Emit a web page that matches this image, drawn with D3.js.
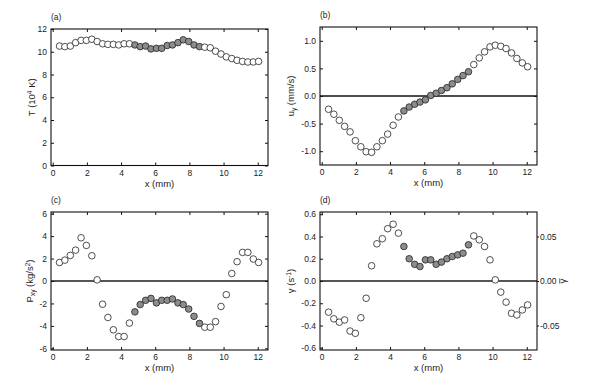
<!DOCTYPE html>
<html lang="en">
<head>
    <meta charset="UTF-8">
    <title>Profiles across the channel</title>
    <script src="https://cdnjs.cloudflare.com/ajax/libs/d3/7.8.5/d3.min.js"></script>
    <style>
        body {
            margin: 0;
            background: white;
        }
        svg text {
            font-family: "Liberation Sans", Arial, sans-serif;
            fill: #222;
        }
        .tick text {
            font-size: 8.5px;
        }
        .axis-label {
            font-size: 9.5px;
        }
    </style>
</head>
<body>
    <div id="chart"></div>

    <script>
        // x position of every sample (mm)
        const xPos = [0.40, 0.71, 1.03, 1.34, 1.66, 1.97, 2.29, 2.60, 2.92, 3.23,
                      3.55, 3.86, 4.18, 4.49, 4.81, 5.12, 5.44, 5.75, 6.07, 6.38,
                      6.70, 7.01, 7.33, 7.64, 7.96, 8.27, 8.59, 8.90, 9.22, 9.53,
                      9.85, 10.16, 10.48, 10.79, 11.11, 11.42, 11.74, 12.05];

        // (a) temperature, 10^4 K
        const tempT = [10.5, 10.45, 10.5, 10.8, 11.0, 11.0, 11.1, 10.9, 10.7, 10.65,
                       10.65, 10.6, 10.7, 10.7, 10.6, 10.45, 10.5, 10.25, 10.3, 10.3,
                       10.55, 10.6, 10.8, 11.05, 10.9, 10.6, 10.45, 10.4, 10.35, 10.05,
                       9.8, 9.55, 9.4, 9.25, 9.15, 9.1, 9.1, 9.15];

        // (b) flow velocity u_y, mm/s
        const velUy = [-0.24, -0.33, -0.44, -0.55, -0.65, -0.81, -0.92, -1.01, -1.02, -0.92,
                       -0.81, -0.69, -0.53, -0.38, -0.27, -0.20, -0.15, -0.11, -0.07, 0.01,
                       0.05, 0.10, 0.15, 0.22, 0.30, 0.37, 0.44, 0.57, 0.69, 0.80,
                       0.89, 0.92, 0.90, 0.86, 0.78, 0.68, 0.60, 0.53];

        // (c) shear stress P_xy, kg/s^2
        const stressPxy = [1.65, 1.86, 2.28, 2.75, 3.85, 3.17, 2.25, 0.1, -2.07, -3.25,
                           -4.35, -4.95, -4.95, -3.75, -2.75, -2.1, -1.72, -1.55, -1.95, -1.72,
                           -1.72, -1.6, -1.95, -2.1, -2.5, -3.15, -3.78, -4.12, -4.12, -3.62,
                           -2.27, -1.22, 0.67, 1.72, 2.55, 2.55, 1.96, 1.65];

        // (d) shear rate gamma, 1/s
        const shearGamma = [-0.28, -0.34, -0.37, -0.35, -0.45, -0.47, -0.33, -0.155, 0.137, 0.334,
                            0.38, 0.47, 0.51, 0.43, 0.31, 0.20, 0.15, 0.13, 0.19, 0.19,
                            0.15, 0.17, 0.20, 0.22, 0.235, 0.25, 0.325, 0.405, 0.37, 0.31,
                            0.19, 0.01, -0.10, -0.19, -0.29, -0.305, -0.26, -0.215];

        // samples inside this x span (mm) are drawn as gray circles
        const shadedSpan = [4.7, 8.7];

        const xTicks = [0, 2, 4, 6, 8, 10, 12];
        const tTicks = [0, 2, 4, 6, 8, 10, 12];
        const uTicks = [-1.0, -0.5, 0.0, 0.5, 1.0];
        const pTicks = [-6, -4, -2, 0, 2, 4, 6];
        const gTicks = [-0.6, -0.4, -0.2, 0.0, 0.2, 0.4, 0.6];
        const gBarTicks = [-0.05, 0.00, 0.05];

        const locale = d3.formatLocale({
            decimal: '.', thousands: ',', grouping: [3], currency: ['', ''], minus: '-'
        });

        const svg = d3.select('#chart')
            .append('svg')
            .attr('width', 600)
            .attr('height', 382);

        const panels = [
            {
                tag: '(a)', box: [51, 29, 268, 165.5],
                values: tempT, yDomain: [0, 12], yTicks: tTicks, yFmt: locale.format('d'),
                zeroLine: null, labelX: 35,
                yLabel: [['T  (10'], ['4', 'sup'], [' K)']]
            },
            {
                tag: '(b)', box: [320, 27, 537, 165],
                values: velUy, yDomain: [-1.25, 1.25], yTicks: uTicks, yFmt: locale.format('.1f'),
                zeroLine: { color: '#111', width: 1.3 }, labelX: 294,
                yLabel: [['u'], ['y', 'sub'], [' (mm/s)']]
            },
            {
                tag: '(c)', box: [51, 212, 268, 350],
                values: stressPxy, yDomain: [-6.15, 6.15], yTicks: pTicks, yFmt: locale.format('d'),
                zeroLine: { color: '#555', width: 2 }, labelX: 33,
                yLabel: [['P'], ['xy', 'sub'], [' (kg/s'], ['2', 'sup'], [')']]
            },
            {
                tag: '(d)', box: [320, 212, 537, 350],
                values: shearGamma, yDomain: [-0.62, 0.62], yTicks: gTicks, yFmt: locale.format('.1f'),
                zeroLine: { color: '#555', width: 2 }, labelX: 294,
                yLabel: [['\u03b3 (s'], ['-1', 'sup'], [')']],
                rightAxis: { domain: [-0.0775, 0.0775], ticks: gBarTicks, fmt: locale.format('.2f') }
            }
        ];

        panels.forEach(drawPanel);

        function addRichText(textSel, parts) {
            parts.forEach(([str, kind]) => {
                const span = textSel.append('tspan').text(str);
                if (kind === 'sup') {
                    span.attr('font-size', '6.5px').attr('dy', '-0.45em');
                } else if (kind === 'sub') {
                    span.attr('font-size', '6.5px').attr('dy', '0.3em');
                }
                if (kind) {
                    span.attr('data-kind', kind);
                }
            });
            // reset the baseline shift after each sub/sup
            textSel.selectAll('tspan').each(function(d, i, nodes) {
                const kind = this.getAttribute('data-kind');
                if (kind && nodes[i + 1]) {
                    const back = kind === 'sup' ? '0.3em' : '-0.2em';
                    d3.select(nodes[i + 1]).attr('dy', back);
                }
            });
        }

        function drawPanel(p) {
            const [left, top, right, bottom] = p.box;
            const g = svg.append('g');

            const x = d3.scaleLinear().domain([-0.1, 12.6]).range([left, right]);
            const y = d3.scaleLinear().domain(p.yDomain).range([bottom, top]);

            // zero reference line
            if (p.zeroLine) {
                g.append('line')
                    .attr('x1', left).attr('x2', right)
                    .attr('y1', y(0)).attr('y2', y(0))
                    .attr('stroke', p.zeroLine.color)
                    .attr('stroke-width', p.zeroLine.width);
            }

            // axes with inward ticks
            g.append('g')
                .attr('transform', `translate(0,${bottom})`)
                .call(d3.axisBottom(x).tickValues(xTicks).tickSizeInner(-3).tickSizeOuter(0).tickPadding(4));
            g.append('g')
                .attr('transform', `translate(0,${top})`)
                .call(d3.axisTop(x).tickValues(xTicks).tickSizeInner(-3).tickSizeOuter(0).tickFormat(''));
            g.append('g')
                .attr('transform', `translate(${left},0)`)
                .call(d3.axisLeft(y).tickValues(p.yTicks).tickFormat(p.yFmt)
                    .tickSizeInner(-3).tickSizeOuter(0).tickPadding(4));

            if (p.rightAxis) {
                const y2 = d3.scaleLinear().domain(p.rightAxis.domain).range([bottom, top]);
                g.append('g')
                    .attr('transform', `translate(${right},0)`)
                    .call(d3.axisRight(y2).tickValues(p.rightAxis.ticks).tickFormat(p.rightAxis.fmt)
                        .tickSizeInner(2).tickSizeOuter(0).tickPadding(1));
                // gamma-bar label, rotated like the left ones
                const gb = g.append('g')
                    .attr('transform', `translate(563,${y2(0)}) rotate(-90)`);
                gb.append('text')
                    .attr('class', 'axis-label')
                    .attr('text-anchor', 'middle')
                    .attr('dy', '0.35em')
                    .text('\u03b3');
                gb.append('line')
                    .attr('x1', -2.6).attr('x2', 2.6)
                    .attr('y1', -3.2).attr('y2', -3.2)
                    .attr('stroke', '#222')
                    .attr('stroke-width', 0.8);
            } else {
                g.append('g')
                    .attr('transform', `translate(${right},0)`)
                    .call(d3.axisRight(y).tickValues(p.yTicks).tickSizeInner(-3).tickSizeOuter(0).tickFormat(''));
            }

            g.selectAll('.domain').remove();
            g.selectAll('.tick line').attr('stroke', '#111');

            // frame
            g.append('rect')
                .attr('x', left).attr('y', top)
                .attr('width', right - left).attr('height', bottom - top)
                .attr('fill', 'none')
                .attr('stroke', '#111')
                .attr('stroke-width', 1.1);

            // samples
            const pts = xPos.map((xv, i) => ({ x: xv, y: p.values[i] }));
            g.append('g')
                .selectAll('circle')
                .data(pts)
                .enter().append('circle')
                .attr('cx', d => x(d.x))
                .attr('cy', d => y(d.y))
                .attr('r', 3.3)
                .attr('fill', d => (d.x > shadedSpan[0] && d.x < shadedSpan[1]) ? '#8c8c8c' : 'white')
                .attr('stroke', '#222')
                .attr('stroke-width', 0.8);

            // panel tag
            g.append('text')
                .attr('x', left)
                .attr('y', top - 9)
                .attr('font-size', '8.5px')
                .text(p.tag);

            // x label
            g.append('text')
                .attr('class', 'axis-label')
                .attr('x', (left + right) / 2)
                .attr('y', bottom + 21)
                .attr('text-anchor', 'middle')
                .text('x (mm)');

            // y label
            const yl = g.append('text')
                .attr('class', 'axis-label')
                .attr('transform', `translate(${p.labelX},${(top + bottom) / 2}) rotate(-90)`)
                .attr('text-anchor', 'middle');
            addRichText(yl, p.yLabel);
        }
    </script>
</body>
</html>
